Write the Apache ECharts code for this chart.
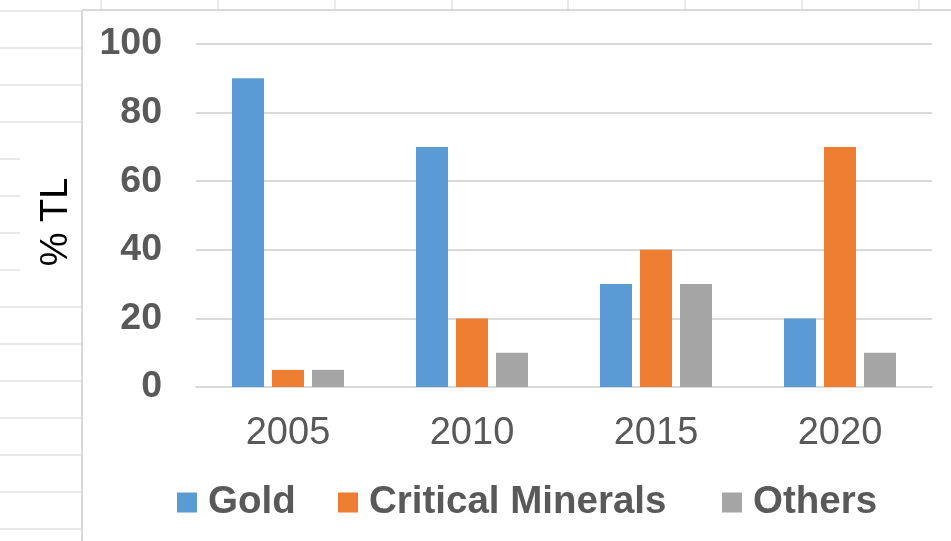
<!DOCTYPE html>
<html>
<head>
<meta charset="utf-8">
<script src="https://cdn.jsdelivr.net/npm/echarts@6/dist/echarts.min.js"></script>
<style>
html,body{margin:0;padding:0;background:#fff;}
#chart{width:951px;height:541px;}
</style>
</head>
<body>
<div id="chart"></div>
<script>
const categories = ['2005', '2010', '2015', '2020'];
const goldValues = [90, 70, 30, 20];
const criticalValues = [5, 20, 40, 70];
const otherValues = [5, 10, 30, 10];
const seriesNames = ['Gold', 'Critical Minerals', 'Others'];
const yTicks = { min: 0, max: 100, interval: 20 };

const FONT = '"Liberation Sans", Arial, sans-serif';
const sheetLine = '#d4d4d4';
const frameLine = '#d9d9d9';

// spreadsheet background decoration
const graphics = [];
const fullRows = [11, 48, 85, 122, 307, 344, 381, 418, 455, 492, 529];
const shortRows = [159, 196, 233, 270];
fullRows.forEach(y => graphics.push({type:'line', shape:{x1:0,y1:y,x2:82,y2:y}, style:{stroke:sheetLine,lineWidth:1}, silent:true}));
shortRows.forEach(y => graphics.push({type:'line', shape:{x1:0,y1:y,x2:20,y2:y}, style:{stroke:sheetLine,lineWidth:1}, silent:true}));
[101, 218, 335, 452, 568, 685, 802, 919].forEach(x => graphics.push({type:'line', shape:{x1:x,y1:0,x2:x,y2:10}, style:{stroke:sheetLine,lineWidth:1}, silent:true}));
graphics.push({type:'line', shape:{x1:82,y1:10,x2:951,y2:10}, style:{stroke:frameLine,lineWidth:2}, silent:true});
graphics.push({type:'line', shape:{x1:82,y1:10,x2:82,y2:541}, style:{stroke:frameLine,lineWidth:2}, silent:true});

const legendLefts = [177, 338, 722];
const legendBase = {
  top: 483,
  padding: 0,
  icon: 'rect',
  itemWidth: 20,
  itemHeight: 20,
  textStyle: { fontFamily: FONT, fontSize: 38.5, fontWeight: 'bold', color: '#595959', padding: [0, 0, 0, 6] }
};
const legends = seriesNames.map((n, i) => Object.assign({}, legendBase, { data: [n], left: legendLefts[i] }));

const chart = echarts.init(document.getElementById('chart'));
chart.setOption({
  animation: false,
  backgroundColor: '#ffffff',
  color: ['#5b9bd5', '#ed7d31', '#a5a5a5'],
  graphic: graphics,
  grid: { left: 196, right: 19, top: 44, bottom: 154, containLabel: false },
  legend: legends,
  xAxis: {
    type: 'category',
    data: categories,
    axisLine: { show: true, lineStyle: { color: frameLine, width: 2 } },
    axisTick: { show: false },
    axisLabel: { fontFamily: FONT, fontSize: 38, color: '#595959', margin: 28 }
  },
  yAxis: {
    type: 'value',
    min: yTicks.min,
    max: yTicks.max,
    interval: yTicks.interval,
    name: '% TL',
    nameLocation: 'middle',
    nameRotate: 90,
    nameGap: 120,
    nameTextStyle: { fontFamily: FONT, fontSize: 38, color: '#000000', padding: [0, 13, 0, 0] },
    axisLine: { show: false },
    axisTick: { show: false },
    splitLine: { lineStyle: { color: frameLine, width: 2 } },
    axisLabel: { fontFamily: FONT, fontSize: 37.5, fontWeight: 'bold', color: '#595959', margin: 34 }
  },
  series: [
    { name: seriesNames[0], type: 'bar', data: goldValues, barWidth: 32, barGap: '25%' },
    { name: seriesNames[1], type: 'bar', data: criticalValues, barWidth: 32, barGap: '25%' },
    { name: seriesNames[2], type: 'bar', data: otherValues, barWidth: 32, barGap: '25%' }
  ]
});
</script>
</body>
</html>
